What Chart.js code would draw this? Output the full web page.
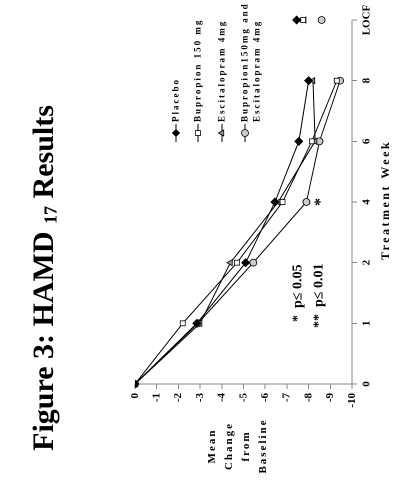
<!DOCTYPE html>
<html><head><meta charset="utf-8">
<script src="https://cdn.jsdelivr.net/npm/chart.js@4"></script>
<style>
html,body{margin:0;padding:0;background:#fff;overflow:hidden;width:406px;height:500px}
#wrap{position:absolute;left:0;top:0;width:500px;height:406px;transform-origin:0 0;transform:translateY(500px) rotate(-90deg)}
</style></head><body>
<div id="wrap"><canvas id="c" width="500" height="406"></canvas></div>
<script>
const weeks = ['0','1','2','4','6','8','LOCF'];
const placebo = [0, -2.85, -5.1, -6.45, -7.55, -8.0, -7.45];
const bupropion = [0, -2.2, -4.7, -6.8, -8.15, -9.3, -7.75];
const escitalopram = [0, -3.0, -4.4, -6.6, -8.3, -8.2, -7.8];
const combo = [0, -2.9, -5.45, -7.9, -8.5, -9.45, -8.6];
const seriesNames = ['Placebo','Bupropion 150 mg','Escitalopram 4mg','Bupropion150mg and|Escitalopram 4mg'];

const F = '"Liberation Serif", serif';
const seg = {borderColor: c => c.p1DataIndex === 6 ? 'rgba(0,0,0,0)' : '#000'};
function ds(label, data, style, bg, r){
  return {label, data, borderColor:'#000', borderWidth:1, pointStyle:style, pointBackgroundColor:bg,
    pointBorderColor:'#000', pointBorderWidth:0.8, pointRadius:r, tension:0, segment:seg};
}
const extra = {
  id:'extra',
  afterDraw(ch){
    const ctx = ch.ctx; ctx.save(); ctx.fillStyle='#000';
    ctx.textAlign='center'; ctx.textBaseline='middle';
    // title
    ctx.font = 'bold 30px '+F;
    const t1='Figure 3: HAMD ', t3=' Results';
    ctx.textAlign='left';
    const w1=ctx.measureText(t1).width, w3=ctx.measureText(t3).width;
    ctx.font='bold 18px '+F; const w2=ctx.measureText('17').width;
    let x0 = 222-(w1+w2+w3)/2;
    ctx.font='bold 30px '+F; ctx.fillText(t1,x0,45);
    ctx.font='bold 18px '+F; ctx.fillText('17',x0+w1,52);
    ctx.font='bold 30px '+F; ctx.fillText(t3,x0+w1+w2,45);
    // y title
    ctx.textAlign='center';
    ctx.font='bold 11px '+F; ctx.letterSpacing='2px';
    ['Mean','Change','from','Baseline'].forEach((s,i)=>ctx.fillText(s,54,212+i*17));
    // x title
    ctx.font='bold 12px '+F; ctx.letterSpacing='2.5px';
    ctx.fillText('Treatment Week',300,386);
    // legend
    ctx.font='bold 9px '+F; ctx.letterSpacing='2px'; ctx.textAlign='left';
    const ys=[176,198,222,245];
    const styles=[['rectRot','#000'],['rect','#fff'],['triangle','#999'],['circle','#ccc']];
    seriesNames.forEach((n,i)=>{
      const y=ys[i];
      ctx.strokeStyle='#000'; ctx.lineWidth=1;
      ctx.beginPath(); ctx.moveTo(358,y); ctx.lineTo(376,y); ctx.stroke();
      ctx.fillStyle=styles[i][1]; ctx.strokeStyle='#000'; ctx.lineWidth=0.8;
      Chart.helpers.drawPoint(ctx,{pointStyle:styles[i][0],radius:3.5,borderWidth:0.8},367,y);
      ctx.fillStyle='#000';
      n.split('|').forEach((p,j)=>ctx.fillText(p,378,y+j*12));
    });
    // annotations
    ctx.letterSpacing='0px'; ctx.font='bold 14px '+F;
    ctx.fillText('*  p\u2264 0.05',178,298);
    ctx.fillText('**  p\u2264 0.01',172,319);
    ctx.font='bold 16px '+F; ctx.textAlign='center';
    ctx.fillText('*',298,321);
    ctx.restore();
  }
};
new Chart(document.getElementById('c'),{
  type:'line',
  data:{labels:weeks,datasets:[
    ds('Placebo',placebo,'rectRot','#000',4),
    ds('Bupropion 150 mg',bupropion,'rect','#fff',3.5),
    ds('Escitalopram 4mg',escitalopram,'triangle','#999',3.5),
    ds('Combo',combo,'circle','#ccc',3.5)
  ]},
  options:{
    responsive:false, animation:false, devicePixelRatio:2,
    layout:{padding:{top:135,right:20,left:0,bottom:0}},
    plugins:{legend:{display:false},tooltip:{enabled:false}},
    scales:{
      x:{offset:false,
        grid:{drawOnChartArea:false,drawTicks:true,tickLength:5,color:'#888'},
        border:{color:'#888'},
        ticks:{autoSkip:false,maxRotation:0,color:'#000',padding:3,font:{family:F,weight:'bold',size:11}},
        afterFit(s){s.height=54;}
      },
      y:{min:-10,max:0,
        grid:{drawOnChartArea:false,drawTicks:true,tickLength:5,color:'#888'},
        border:{color:'#888'},
        ticks:{stepSize:1,color:'#000',padding:4,font:{family:F,weight:'bold',size:11}},
        afterFit(s){s.width=116;}
      }
    }
  },
  plugins:[extra]
});
</script></body></html>
